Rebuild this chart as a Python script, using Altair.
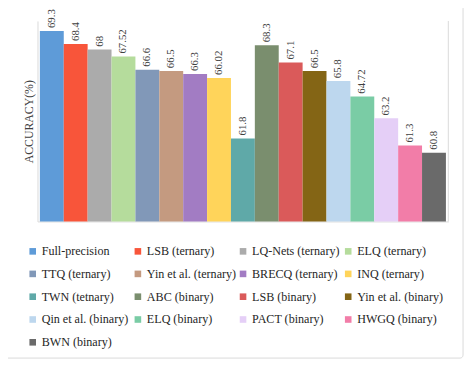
import altair as alt
import pandas as pd

methods = ["Full-precision", "LSB (ternary)", "LQ-Nets (ternary)", "ELQ (ternary)",
           "TTQ (ternary)", "Yin et al. (ternary)", "BRECQ (ternary)", "INQ (ternary)",
           "TWN (tetnary)", "ABC (binary)", "LSB (binary)", "Yin et al. (binary)",
           "Qin et al. (binary)", "ELQ (binary)", "PACT (binary)", "HWGQ (binary)",
           "BWN (binary)"]
accuracy = [69.3, 68.4, 68, 67.52, 66.6, 66.5, 66.3, 66.02, 61.8, 68.3, 67.1, 66.5,
            65.8, 64.72, 63.2, 61.3, 60.8]
colors = ["#5E9BD8", "#F8553A", "#ABABAB", "#B5DC9C", "#8198B8", "#C49A80", "#A27CC3",
          "#FFD45A", "#5FA9A8", "#7A8E6E", "#DA5A5A", "#846515", "#BDD7EE", "#7ACCA5",
          "#E5CFF7", "#F27DA8", "#6A6A6A"]

df = pd.DataFrame({"method": methods, "acc": accuracy,
                   "label": [f"{v:g}" for v in accuracy]})

W, H = 418, 204
serif = "Liberation Serif"

x = alt.X("method:N", sort=methods,
          scale=alt.Scale(paddingInner=0, paddingOuter=0.1),
          axis=alt.Axis(labels=False, ticks=False, title=None, domainColor="#D9D9D9"))
y = alt.Y("acc:Q", scale=alt.Scale(domain=[56, 70], nice=False, zero=False, clamp=True),
          axis=alt.Axis(labels=False, ticks=False, grid=False, domainColor="#D9D9D9",
                        title="ACCURACY(%)", titleFont=serif, titleFontSize=12,
                        titleFontWeight="normal", titleColor="#404040", titlePadding=2))

bars = alt.Chart(df).mark_bar().encode(
    x=x, y=y,
    color=alt.Color("method:N", sort=methods,
                    scale=alt.Scale(domain=methods, range=colors),
                    legend=alt.Legend(title=None, orient="none", legendX=-11, legendY=228,
                                      columns=4, direction="horizontal", gridAlign="all",
                                      symbolType="square", symbolSize=45,
                                      symbolStrokeWidth=0, labelFont=serif, labelFontSize=12.3,
                                      labelColor="#262626", rowPadding=10.2, columnPadding=0,
                                      labelOffset=3, labelLimit=200))
)

labels = alt.Chart(df).mark_text(angle=270, align="left", baseline="middle", dx=3,
                                 font=serif, fontSize=11, color="#404040").encode(
    x=alt.X("method:N", sort=methods), y="acc:Q", text="label:N")

border = alt.Chart(pd.DataFrame({"a": [0]})).mark_rect(
    fill=None, stroke="#D9D9D9", strokeWidth=1, cornerRadius=3).encode(
    x=alt.value(-36), x2=alt.value(433), y=alt.value(-16), y2=alt.value(343))

right_line = alt.Chart(pd.DataFrame({"a": [0]})).mark_rule(
    color="#D9D9D9", strokeWidth=1).encode(
    x=alt.value(W), y=alt.value(0), y2=alt.value(H))

chart = alt.layer(border, right_line, bars, labels).properties(
    width=W, height=H,
    autosize=alt.AutoSizeParams(type="none"),
    padding={"left": 30, "top": 10, "right": 18, "bottom": 151},
).configure(background="white", font=serif).configure_view(stroke=None)

chart.save("out.html", embed_options={"renderer": "svg", "actions": False})
